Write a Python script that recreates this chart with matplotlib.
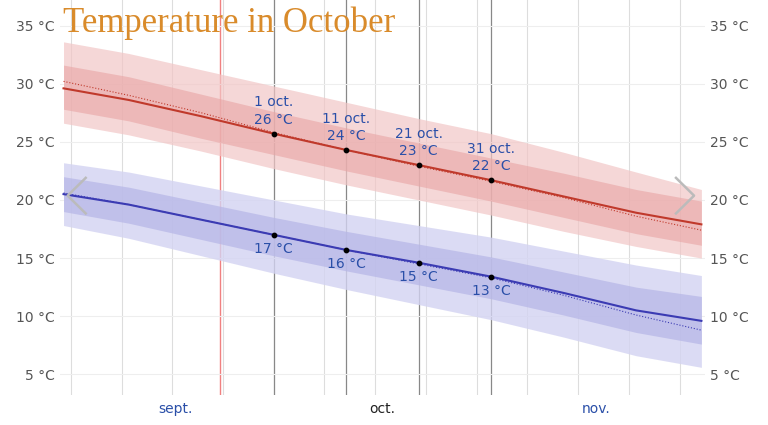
import numpy as np
import matplotlib.pyplot as plt

# days relative to 1 October
days = [-29, -20, -10, 0, 10, 20, 30, 40, 50, 59]
hi_mean = [29.6, 28.6, 27.2, 25.7, 24.3, 23.0, 21.7, 20.3, 18.9, 17.9]
hi_dot = [30.2, 29.0, 27.5, 25.8, 24.3, 22.9, 21.6, 20.2, 18.6, 17.4]
hi_in_lo = [27.8, 26.8, 25.3, 23.9, 22.5, 21.2, 19.9, 18.5, 17.1, 16.1]
hi_in_hi = [31.6, 30.6, 29.1, 27.6, 26.2, 24.9, 23.6, 22.3, 20.9, 19.9]
hi_out_lo = [26.6, 25.6, 24.2, 22.7, 21.3, 20.0, 18.7, 17.3, 16.0, 15.0]
hi_out_hi = [33.6, 32.6, 31.2, 29.8, 28.4, 27.0, 25.7, 24.1, 22.4, 20.9]
lo_mean = [20.5, 19.6, 18.3, 17.0, 15.7, 14.6, 13.4, 12.0, 10.5, 9.6]
lo_dot = [20.6, 19.6, 18.3, 17.0, 15.7, 14.5, 13.3, 11.8, 10.1, 8.8]
lo_in_lo = [19.0, 18.0, 16.6, 15.2, 13.9, 12.7, 11.5, 10.1, 8.6, 7.6]
lo_in_hi = [22.0, 21.1, 19.8, 18.5, 17.3, 16.2, 15.1, 13.8, 12.5, 11.7]
lo_out_lo = [17.8, 16.7, 15.2, 13.7, 12.3, 11.0, 9.7, 8.2, 6.6, 5.6]
lo_out_hi = [23.2, 22.4, 21.2, 20.0, 18.8, 17.8, 16.8, 15.6, 14.4, 13.5]

ann_days = [0, 10, 20, 30]
ann_labels = ["1 oct.", "11 oct.", "21 oct.", "31 oct."]
ann_hi = [26, 24, 23, 22]
ann_lo = [17, 16, 15, 13]
ann_hi_y = [25.7, 24.3, 23.0, 21.7]
ann_lo_y = [17.0, 15.7, 14.6, 13.4]

months = ["sept.", "oct.", "nov."]
month_x = [-13.5, 15, 44.5]
month_col = ["#2a4fa8", "#222222", "#2a4fa8"]
today = -7.4

fig = plt.figure(figsize=(7.68, 4.25), dpi=100)
ax = fig.add_axes([0.078, 0.07, 0.84, 0.93])
ax.set_xlim(-29.5, 59.5)
ax.set_ylim(3.2, 37.2)

for d in range(-28, 60, 7):
    ax.axvline(d, color="#dddddd", lw=0.8, zorder=0)
for d in ann_days:
    ax.axvline(d, color="#888888", lw=0.9, zorder=0)
ax.axvline(today, color="#f08080", lw=1, zorder=0)
for t in range(5, 40, 5):
    ax.axhline(t, color="#eeeeee", lw=0.8, zorder=0)

ax.fill_between(days, hi_out_lo, hi_out_hi, color="#f2c6c6", alpha=0.7, lw=0)
ax.fill_between(days, hi_in_lo, hi_in_hi, color="#e8a4a4", alpha=0.6, lw=0)
ax.fill_between(days, lo_out_lo, lo_out_hi, color="#d3d3f2", alpha=0.8, lw=0)
ax.fill_between(days, lo_in_lo, lo_in_hi, color="#b5b5e6", alpha=0.7, lw=0)
ax.plot(days, hi_mean, color="#c0392b", lw=1.5)
ax.plot(days, hi_dot, color="#c0392b", lw=0.8, ls=":")
ax.plot(days, lo_mean, color="#3b3bb3", lw=1.5)
ax.plot(days, lo_dot, color="#3b3bb3", lw=0.8, ls=":")

ax.scatter(ann_days, ann_hi_y, s=10, color="black", zorder=5)
ax.scatter(ann_days, ann_lo_y, s=10, color="black", zorder=5)
for d, lab, h, hy, l, ly in zip(ann_days, ann_labels, ann_hi, ann_hi_y, ann_lo, ann_lo_y):
    ax.text(d, hy + 0.6, f"{lab}\n{h} °C", ha="center", va="bottom",
            color="#2a4fa8", fontsize=10, linespacing=1.3)
    ax.text(d, ly - 0.6, f"{l} °C", ha="center", va="top", color="#2a4fa8", fontsize=10)

ax.set_yticks(range(5, 40, 5))
ax.set_yticklabels([f"{t} °C" for t in range(5, 40, 5)])
ax.tick_params(axis="y", length=0, labelsize=10, labelcolor="#555555",
               left=True, right=True, labelleft=True, labelright=True)
ax.set_xticks([])
for s in ax.spines.values():
    s.set_visible(False)
for m, x, c in zip(months, month_x, month_col):
    ax.text(x, 3.2 - 0.6, m, ha="center", va="top", color=c, fontsize=10)

# chevrons
ax.plot([0.04, 0.012, 0.04], [0.55, 0.505, 0.46], transform=ax.transAxes,
        color="#bbbbbb", lw=1.8)
ax.plot([0.955, 0.983, 0.955], [0.55, 0.505, 0.46], transform=ax.transAxes,
        color="#bbbbbb", lw=1.8, clip_on=False)

fig.text(0.082, 0.945, "Temperature in October", color="#d98b2b",
         fontsize=25, family="Liberation Serif", va="center")
fig.savefig("out.png")
